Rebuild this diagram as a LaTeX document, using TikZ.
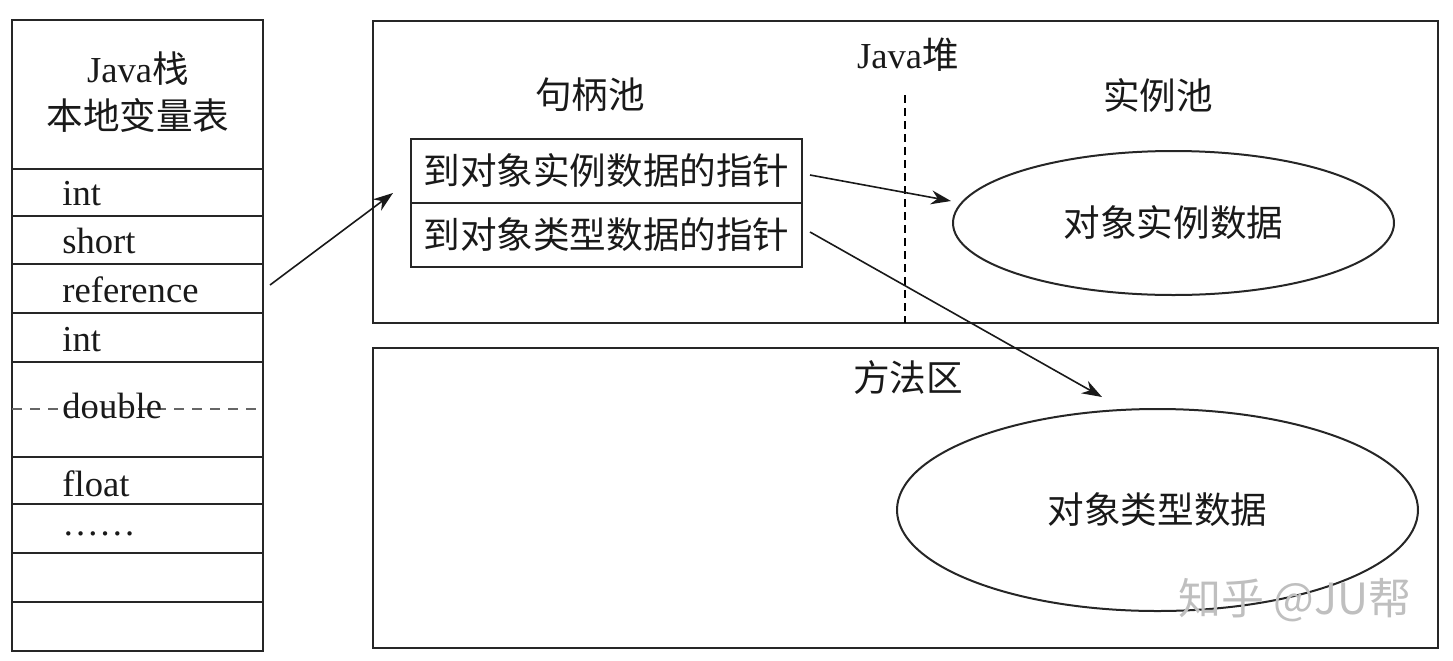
\documentclass[tikz,border=0pt]{standalone}
\usepackage{fontspec}
\setmainfont{Liberation Serif}
\newfontfamily\cjk{Noto Sans CJK SC}
\usetikzlibrary{arrows.meta,shapes.geometric}
\begin{document}
\begin{tikzpicture}[x=0.5pt,y=-0.5pt,
  box/.style={draw=black!85, line width=1pt},
  txt/.style={font=\fontsize{18.3}{22}\selectfont, inner sep=0pt, text=black!90},
  lbl/.style={txt, anchor=base west},
  cell/.style={box, txt, minimum width=195.5pt, minimum height=32pt},
  oval/.style={box, txt, ellipse, inner sep=0pt},
  arr/.style={-{Stealth[length=10pt,width=7pt]}, line width=0.8pt, draw=black!90},
  wm/.style={font=\cjk\fontsize{21.5}{24}\selectfont, text=black!25, inner sep=0pt}]
\useasboundingbox (0,0) rectangle (1453,660);
% ---- Java stack ----
\draw[box] (12,20) rectangle (263,651);
\foreach \yy in {169,216,264,313,362,457,504,553,602}
  \draw[box] (12,\yy) -- (263,\yy);
\draw[draw=black!60, line width=0.7pt, dash pattern=on 5pt off 4pt] (12,409) -- (263,409);
\node[txt] (stk1) at (138,69) {Java{\cjk 栈}};
\node[txt] (stk2) at (138,115) {\cjk 本地变量表};
\node[lbl] (v1) at (62,205) {int};
\node[lbl] (v2) at (62,253) {short};
\node[lbl] (v3) at (62,302) {reference};
\node[lbl] (v4) at (62,351) {int};
\node[lbl] (v5) at (62,418) {double};
\node[lbl] (v6) at (62,496) {float};
\node[lbl] (v7) at (62,535) {……};
% ---- Java heap ----
\draw[box] (373,21) rectangle (1438,323);
\node[txt] (heap) at (908,55) {Java{\cjk 堆}};
\node[txt] (hpool) at (590,95) {\cjk 句柄池};
\node[txt] (ipool) at (1158,95) {\cjk 实例池};
\draw[line width=0.7pt, dash pattern=on 4pt off 2.5pt] (905,95) -- (905,323);
\node[cell] (p1) at (606.5,171) {\cjk 到对象实例数据的指针};
\node[cell] (p2) at (606.5,235) {\cjk 到对象类型数据的指针};
\node[oval, minimum width=220.5pt, minimum height=72pt] (e1) at (1173.5,223) {\cjk 对象实例数据};
% ---- method area ----
\draw[box] (373,348) rectangle (1438,648);
\node[txt] (marea) at (908,378) {\cjk 方法区};
\node[oval, minimum width=260.5pt, minimum height=101pt] (e2) at (1157.5,510) {\cjk 对象类型数据};
\node[wm] (mark) at (1295,600) {知乎 @JU帮};
% ---- connectors ----
\coordinate (r0) at (270,285);
\coordinate (r1) at (393,193);
\coordinate (a1) at (810,175);
\coordinate (b1) at (951,201);
\coordinate (a2) at (810,232);
\coordinate (b2) at (1102,397);
\draw[arr] (r0) -- (r1);
\draw[arr] (a1) -- (b1);
\draw[arr] (a2) -- (b2);
\end{tikzpicture}
\end{document}
